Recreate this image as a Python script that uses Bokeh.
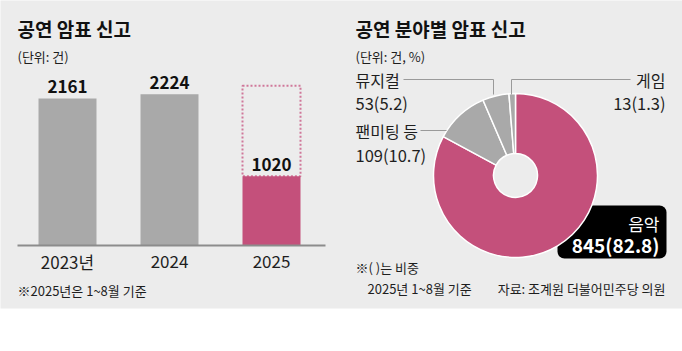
import math
from bokeh.plotting import figure
from bokeh.models import Range1d, Label
from bokeh.core.properties import value
from bokeh.embed import file_html
from bokeh.resources import INLINE

# ---------------- data ----------------
years = ["2023년", "2024", "2025"]
reports = [2161, 2224, 1020]
outline_2025 = 2350          # dotted outline drawn above the 2025 bar

genres = ["음악", "팬미팅 등", "뮤지컬", "게임"]
genre_counts = [845, 109, 53, 13]
genre_shares = [82.8, 10.7, 5.2, 1.3]

# ---------------- style ----------------
PINK = "#c4507b"
GRAY = "#a9a9a9"
BG = "#ececec"
TXT = "#1e1e1e"
KR = "Noto Sans CJK KR"

W, H, FH = 682, 351, 308
def py(v):  # pixel-from-top -> frame coordinate
    return FH - v

PX_PER_VAL = 0.068
BASE = 245
BAR0, STEP = 67, 102

p = figure(width=W, height=H, output_backend="svg", toolbar_location=None,
           x_range=Range1d(0, W), y_range=Range1d(0, FH),
           x_axis_location=None, y_axis_location=None,
           min_border_left=0, min_border_right=0, min_border_top=0, min_border_bottom=H - FH,
           background_fill_color=BG, border_fill_color="white", outline_line_color=None)
p.grid.visible = False
p.extra_x_ranges = {"cat": Range1d(-BAR0 / STEP, (W - BAR0) / STEP)}
p.extra_y_ranges = {"val": Range1d(-(FH - BASE) / PX_PER_VAL, BASE / PX_PER_VAL)}

# ---------------- left: bar chart ----------------
idx = list(range(len(years)))
colors = [GRAY, GRAY, PINK]
bar_w = 58 / STEP

p.vbar(x=[idx[-1]], top=[outline_2025], bottom=[reports[-1]], width=bar_w,
       x_range_name="cat", y_range_name="val", fill_color=None,
       line_color="#d0789a", line_width=2, line_dash="2 2")
p.vbar(x=idx, top=reports, bottom=0, width=bar_w, x_range_name="cat", y_range_name="val",
       fill_color=colors, line_color=None)
p.segment(x0=[17], x1=[325], y0=[py(BASE)], y1=[py(BASE)], line_color="#8c8c8c", line_width=2)

p.text(x=idx, y=reports, text=[str(v) for v in reports], x_range_name="cat", y_range_name="val",
       y_offset=-12, text_align="center", text_baseline="middle",
       text_font=value(KR), text_font_size="17px", text_font_style="bold", text_color="#111111")
p.text(x=idx, y=[0] * len(idx), text=years, x_range_name="cat", y_range_name="val",
       y_offset=16, text_align="center", text_baseline="middle",
       text_font=value(KR), text_font_size="17px", text_color=TXT)

def lab(x, y, t, size, bold=False, align="left", color=TXT):
    p.add_layout(Label(x=x, y=py(y), text=t, text_font=KR, text_font_size=size,
                       text_font_style="bold" if bold else "normal", text_align=align,
                       text_baseline="middle", text_color=color))

lab(17, 28, "공연 암표 신고", "19px", bold=True, color="#111111")
lab(17, 56, "(단위: 건)", "13px")
lab(17, 290, "※2025년은 1~8월 기준", "13px")

# ---------------- right: donut ----------------
cx, cy = 515, 175
total = sum(genre_counts)
starts, ends, cum = [], [], 0
for c in genre_counts:
    starts.append(math.pi / 2 - 2 * math.pi * cum / total)
    cum += c
    ends.append(math.pi / 2 - 2 * math.pi * cum / total)
gcolors = [PINK, GRAY, GRAY, GRAY]

p.quad(left=[557], right=[666], top=[py(205)], bottom=[py(258)], fill_color="#000000",
       line_color=None, border_radius=7)

p.annular_wedge(x=cx, y=py(cy), inner_radius=22, outer_radius=82,
                start_angle=starts, end_angle=ends, direction="clock",
                fill_color=gcolors, line_color="white", line_width=1.5)

p.multi_line(xs=[[403, 493, 493], [630, 511, 511], [420, 446]],
             ys=[[py(79), py(79), py(94)], [py(79), py(79), py(94)], [py(130), py(130)]],
             line_color="#9a9a9a", line_width=1)

lab(355, 28, "공연 분야별 암표 신고", "19px", bold=True, color="#111111")
lab(355, 56, "(단위: 건, %)", "13px")

vals = [f"{c}({s})" for c, s in zip(genre_counts, genre_shares)]
lab(355, 79, genres[2], "16px")
lab(355, 102, vals[2], "16.5px")
lab(355, 130, genres[1], "16px")
lab(355, 154, vals[1], "16.5px")
lab(665, 79, genres[3], "16px", align="right")
lab(665, 102, vals[3], "16.5px", align="right")
lab(659, 223, genres[0], "17px", align="right", color="white")
lab(659, 244, vals[0], "19px", bold=True, align="right", color="white")

lab(355, 267, "※( )는 비중", "13px")
lab(367, 288, "2025년 1~8월 기준", "13px")
lab(665, 288, "자료: 조계원 더불어민주당 의원", "13px", align="right")

open("out.html", "w").write(file_html(p, INLINE))
